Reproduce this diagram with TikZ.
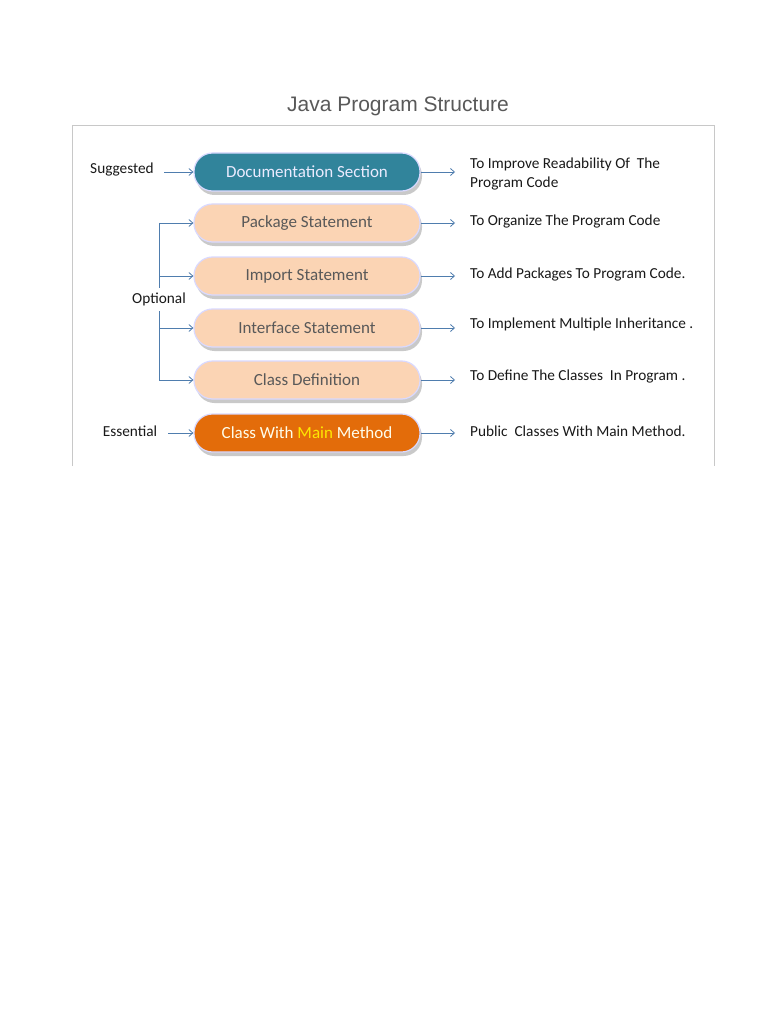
\documentclass[tikz,border=0pt]{standalone}
\usepackage{fontspec}
\setmainfont{Carlito}
\newfontfamily\titlefont{Liberation Sans}
\usetikzlibrary{shadows,arrows.meta}
\definecolor{docblue}{HTML}{31849B}
\definecolor{peach}{HTML}{FBD4B4}
\definecolor{orng}{HTML}{E36C0A}
\definecolor{arrowc}{HTML}{4F7DAE}
\definecolor{txtgray}{HTML}{595959}
\definecolor{framegray}{HTML}{C8C8C8}
\tikzset{
  pill/.style={draw=white!85!blue, line width=1.2pt, rounded corners=18.5pt, minimum width=226pt, minimum height=38pt,
    inner sep=0pt, font=\fontsize{17}{20}\selectfont,
    drop shadow={shadow xshift=2pt, shadow yshift=-4pt, opacity=0.35, fill=black!60}},
  docnode/.style={pill, fill=docblue, text=white!92!blue},
  optnode/.style={pill, fill=peach, text=txtgray},
  mainnode/.style={pill, fill=orng, text=white!92!yellow},
  conn/.style={draw=arrowc, line width=0.8pt, -{Straight Barb[length=4pt,width=7pt]}},
  brk/.style={draw=arrowc, line width=0.8pt},
  desc/.style={anchor=west, font=\fontsize{15.3}{19.5}\selectfont, align=left, inner sep=0pt, text=black!90},
  side/.style={font=\fontsize{15.3}{17}\selectfont, inner sep=0pt, text=black!90},
}
\begin{document}
\begin{tikzpicture}[x=1pt,y=-1pt]
\useasboundingbox (0,0) rectangle (768,1024);
\fill[white] (0,0) rectangle (768,1024);
% frame
\draw[framegray, line width=1pt] (72,466) -- (72,125.5) -- (714,125.5) -- (714,466);
\node[font=\titlefont\fontsize{21}{25}\selectfont, text=black!65] (title) at (398,106) {Java Program Structure};
% nodes
\node[docnode]  (doc)  at (307,172) {Documentation Section};
\node[optnode]  (pkg)  at (307,223) {Package Statement};
\node[optnode]  (imp)  at (307,276) {Import Statement};
\node[optnode]  (intf) at (307,328) {Interface Statement};
\node[optnode]  (cls)  at (307,380) {Class Definition};
\node[mainnode] (mainc) at (307,433) {Class With \textcolor{yellow!90!orange}{Main} Method};
% left labels
\node[side] (sug) at (122,170) {Suggested};
\node[side] (ess) at (130,431) {Essential};
\node[side] (opt) at (159,299) {Optional};
\coordinate (sugE) at (164,172);
\coordinate (essE) at (168,433);
\draw[conn] (sugE) -- (doc.west);
\draw[conn] (essE) -- (mainc.west);
% bracket
\coordinate (b1) at (159,223);
\coordinate (b2) at (159,276);
\coordinate (b3) at (159,328);
\coordinate (b4) at (159,380);
\draw[brk] (b1) -- (159,288);
\draw[brk] (159,311) -- (b4);
\draw[conn] (b1) -- (pkg.west);
\draw[conn] (b2) -- (imp.west);
\draw[conn] (b3) -- (intf.west);
\draw[conn] (b4) -- (cls.west);
% right descriptions
\node[desc] (d1) at (470,174) {To Improve Readability Of\ \ The\\Program Code};
\node[desc] (d2) at (470,222) {To Organize The Program Code};
\node[desc] (d3) at (470,275) {To Add Packages To Program Code.};
\node[desc] (d4) at (470,324) {To Implement Multiple Inheritance .};
\node[desc] (d5) at (470,377) {To Define The Classes\ \ In Program .};
\node[desc] (d6) at (470,431) {Public\ \ Classes With Main Method.};
\coordinate (r1) at (455,172);
\coordinate (r2) at (455,223);
\coordinate (r3) at (455,276);
\coordinate (r4) at (455,328);
\coordinate (r5) at (455,380);
\coordinate (r6) at (455,433);
\draw[conn] (doc.east) -- (r1);
\draw[conn] (pkg.east) -- (r2);
\draw[conn] (imp.east) -- (r3);
\draw[conn] (intf.east) -- (r4);
\draw[conn] (cls.east) -- (r5);
\draw[conn] (mainc.east) -- (r6);
\end{tikzpicture}
\end{document}
